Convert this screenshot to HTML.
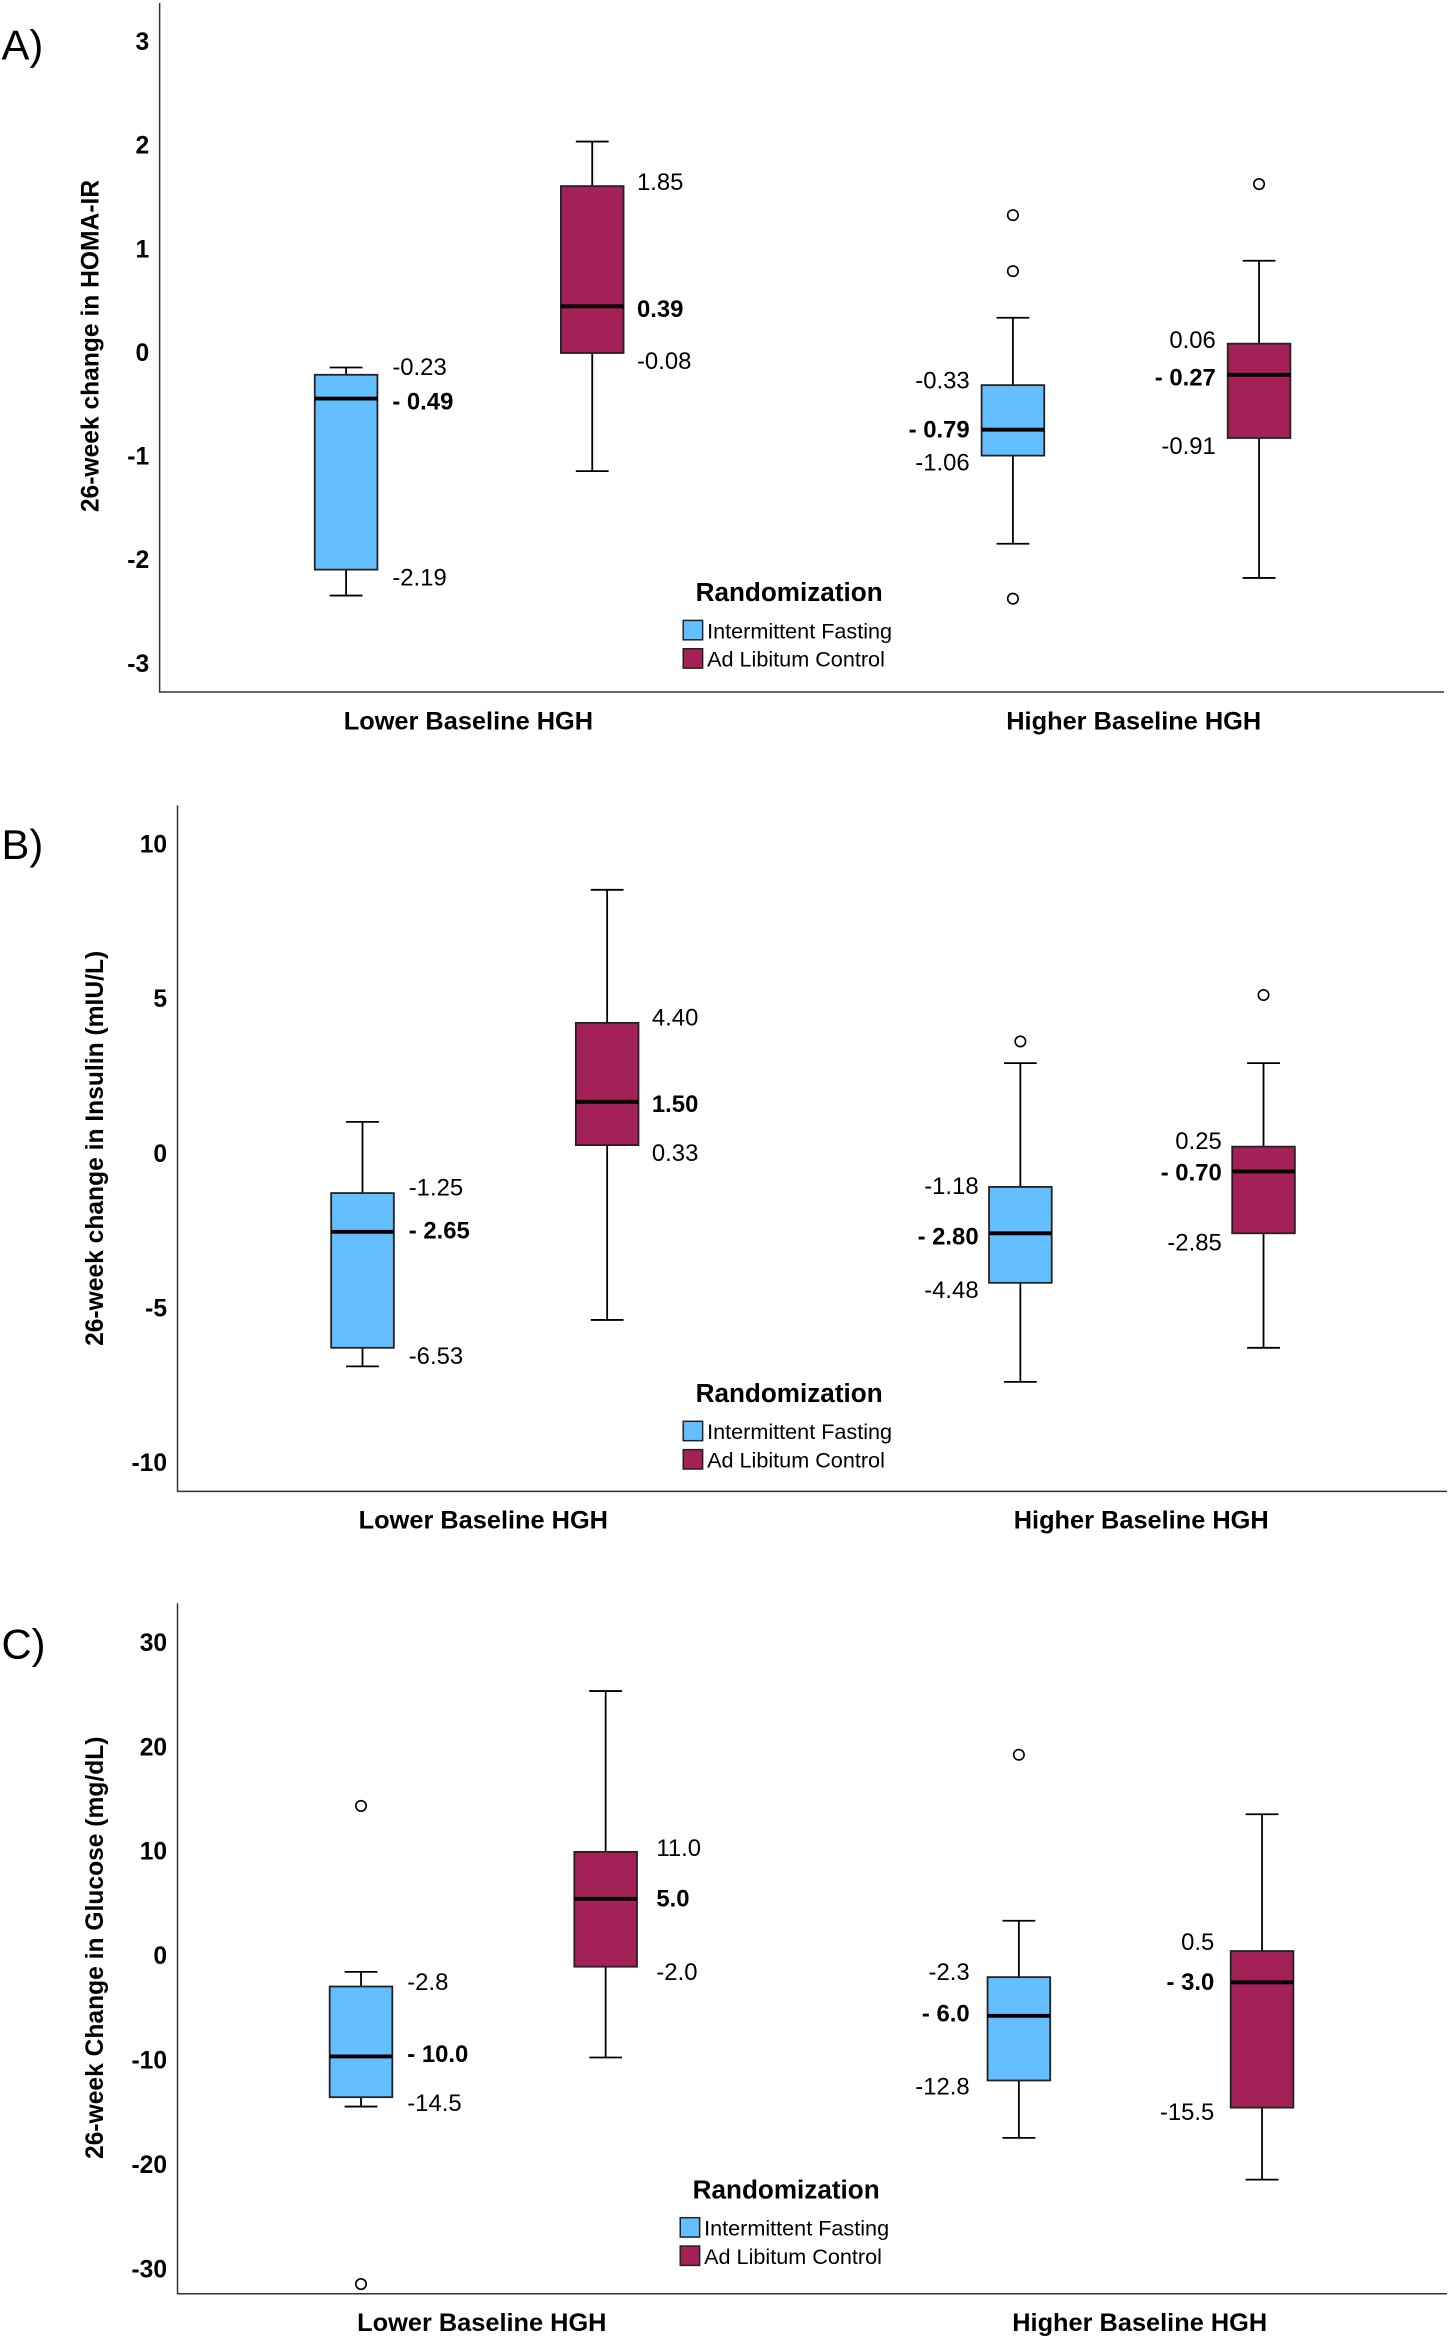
<!DOCTYPE html>
<html><head><meta charset="utf-8"><style>
html,body{margin:0;padding:0;background:#fff;}
svg{display:block;}
text{font-family:"Liberation Sans",Arial,sans-serif;fill:#000;}
</style></head><body>
<svg id="fig" width="1450" height="2337" viewBox="0 0 972 1567" preserveAspectRatio="none" xmlns="http://www.w3.org/2000/svg"></svg>
<script>
// ---- Panel data ----
const groupsA = ["Lower Baseline HGH", "Higher Baseline HGH"];
const seriesNames = ["Intermittent Fasting", "Ad Libitum Control"];
const ticksA = [3, 2, 1, 0, -1, -2, -3];
// each box: [whiskerLow, q1, median, q3, whiskerHigh]
const boxesA = [[-2.35, -2.1, -0.45, -0.22, -0.15], [-1.15, -0.01, 0.44, 1.60, 2.03], [-1.85, -1.0, -0.75, -0.32, 0.33], [-2.18, -0.83, -0.22, 0.08, 0.88]];
const outliersA = [[], [], [1.32, 0.78, -2.38], [1.62]];
const labelsA = [["-0.23", "- 0.49", "-2.19"], ["1.85", "0.39", "-0.08"], ["-0.33", "- 0.79", "-1.06"], ["0.06", "- 0.27", "-0.91"]];

const ticksB = [10, 5, 0, -5, -10];
const boxesB = [[-6.9, -6.3, -2.55, -1.3, 1.0], [-5.4, 0.25, 1.65, 4.2, 8.5], [-7.4, -4.2, -2.6, -1.1, 2.9], [-6.3, -2.6, -0.6, 0.2, 2.9]];
const outliersB = [[], [], [3.6], [5.1]];
const labelsB = [["-1.25", "- 2.65", "-6.53"], ["4.40", "1.50", "0.33"], ["-1.18", "- 2.80", "-4.48"], ["0.25", "- 0.70", "-2.85"]];

const ticksC = [30, 20, 10, 0, -10, -20, -30];
const boxesC = [[-14.5, -13.6, -9.7, -3.0, -1.6], [-9.8, -1.1, 5.4, 9.9, 25.3], [-17.5, -12.0, -5.8, -2.1, 3.3], [-21.5, -14.6, -2.6, 0.4, 13.5]];
const outliersC = [[14.3, -31.5], [], [19.2], []];
const labelsC = [["-2.8", "- 10.0", "-14.5"], ["11.0", "5.0", "-2.0"], ["-2.3", "- 6.0", "-12.8"], ["0.5", "- 3.0", "-15.5"]];

const colors = ["#63bfff", "#a32157"];
const NS = "http://www.w3.org/2000/svg";
const svg = document.getElementById("fig");
function mk(tag, attrs, parent, txt) {
  const e = document.createElementNS(NS, tag);
  for (const k in attrs) e.setAttribute(k, attrs[k]);
  if (txt !== undefined) e.textContent = txt;
  (parent || svg).appendChild(e);
  return e;
}

function panel(cfg) {
  const g = mk("g", {});
  
  
  const y = v => cfg.y0 + (cfg.v0 - v) * cfg.ppu;
  const t = mk("text", {x: 1, y: cfg.letterY, "font-size": 28}, g, cfg.id.toUpperCase() + ")");
  
  
  const ax = mk("path", {d: `M${cfg.ax} ${cfg.top}V${cfg.bottom}H${cfg.right}`, stroke: "#333", "stroke-width": 1, fill: "none"}, g);
  
  
  cfg.ticks.forEach(v => {
    const tl = mk("text", {x: cfg.ax - 7, y: y(v) + 6, "font-size": 16.5, "font-weight": "bold", "text-anchor": "end"}, g, String(v));
    
    
  });
  const yt = mk("text", {transform: `translate(${cfg.ytx},${cfg.yty}) rotate(-90)`, "font-size": 16.5, "font-weight": "bold", "text-anchor": "middle"}, g, cfg.ytitle);
  
  
  groupsA.forEach((name, i) => {
    const cl = mk("text", {x: cfg.catX[i], y: cfg.catY, "font-size": 17, "font-weight": "bold", "text-anchor": "middle"}, g, name);
    
    
  });
  cfg.boxes.forEach((b, i) => {
    const cx = cfg.centers[i], hw = 21, col = colors[i % 2];
    const bg = mk("g", {}, g);
    
    
    mk("line", {x1: cx, x2: cx, y1: y(b[0]), y2: y(b[4]), stroke: "#000", "stroke-width": 1.2}, bg);
    mk("line", {x1: cx - 11, x2: cx + 11, y1: y(b[0]), y2: y(b[0]), stroke: "#000", "stroke-width": 1.2}, bg);
    mk("line", {x1: cx - 11, x2: cx + 11, y1: y(b[4]), y2: y(b[4]), stroke: "#000", "stroke-width": 1.2}, bg);
    mk("rect", {x: cx - hw, y: y(b[3]), width: hw * 2, height: y(b[1]) - y(b[3]), fill: col, stroke: "#222", "stroke-width": 1.2}, bg);
    mk("line", {x1: cx - hw, x2: cx + hw, y1: y(b[2]), y2: y(b[2]), stroke: "#000", "stroke-width": 2.6}, bg);
    cfg.outliers[i].forEach(o => {
      const c = mk("circle", {cx: cx, cy: y(o), r: 3.5, fill: "#fff", stroke: "#000", "stroke-width": 1.1}, bg);
      
      
    });
    const lab = cfg.labels[i];
    const lp = cfg.labelPos[i];
    lab.forEach((s, k) => {
      const lt = mk("text", {x: lp.x, y: lp.ys[k] + 5.5, "font-size": 16, "font-weight": k === 1 ? "bold" : "normal", "text-anchor": lp.anchor}, bg, s);
      
      
    });
  });
  const lg = mk("g", {}, g);
  
  
  mk("text", {x: cfg.legX + 71, y: cfg.legY, "font-size": 17.5, "font-weight": "bold", "text-anchor": "middle"}, lg, "Randomization");
  seriesNames.forEach((s, k) => {
    const ey = cfg.legY + 13 + k * 19;
    const e = mk("g", {}, lg);
    
    
    mk("rect", {x: cfg.legX, y: ey, width: 13, height: 13, fill: colors[k], stroke: "#222", "stroke-width": 1}, e);
    mk("text", {x: cfg.legX + 16, y: ey + 12, "font-size": 14.5}, e, s);
  });
}

panel({id: "a", y0: 236, v0: 0, ppu: 69.5, ax: 107, top: 2, bottom: 464, right: 968, letterY: 40,
  ticks: ticksA, boxes: boxesA, outliers: outliersA, labels: labelsA, ytitle: "26-week change in HOMA-IR",
  ytx: 66, yty: 232, catX: [314, 760], catY: 489, centers: [232, 397, 679, 844], legX: 458, legY: 403,
  labelPos: [{x: 263, anchor: "start", ys: [246, 269, 387]}, {x: 427, anchor: "start", ys: [122, 207, 242]},
             {x: 650, anchor: "end", ys: [255, 288, 310]}, {x: 815, anchor: "end", ys: [228, 253, 299]}]});
panel({id: "b", y0: 773, v0: 0, ppu: 20.75, ax: 119, top: 540, bottom: 1000, right: 970, letterY: 576,
  ticks: ticksB, boxes: boxesB, outliers: outliersB, labels: labelsB, ytitle: "26-week change in Insulin (mIU/L)",
  ytx: 69, yty: 770, catX: [324, 765], catY: 1025, centers: [243, 407, 684, 847], legX: 458, legY: 940,
  labelPos: [{x: 274, anchor: "start", ys: [796, 825, 909]}, {x: 437, anchor: "start", ys: [682, 740, 773]},
             {x: 656, anchor: "end", ys: [795, 829, 865]}, {x: 819, anchor: "end", ys: [765, 786, 833]}]});
panel({id: "c", y0: 1311, v0: 0, ppu: 7.0, ax: 119, top: 1075, bottom: 1538, right: 970, letterY: 1112,
  ticks: ticksC, boxes: boxesC, outliers: outliersC, labels: labelsC, ytitle: "26-week Change in Glucose (mg/dL)",
  ytx: 69, yty: 1306, catX: [323, 764], catY: 1563, centers: [242, 406, 683, 846], legX: 456, legY: 1474,
  labelPos: [{x: 273, anchor: "start", ys: [1329, 1377, 1410]}, {x: 440, anchor: "start", ys: [1239, 1273, 1322]},
             {x: 650, anchor: "end", ys: [1322, 1350, 1399]}, {x: 814, anchor: "end", ys: [1302, 1329, 1416]}]});
</script>
</body></html>
